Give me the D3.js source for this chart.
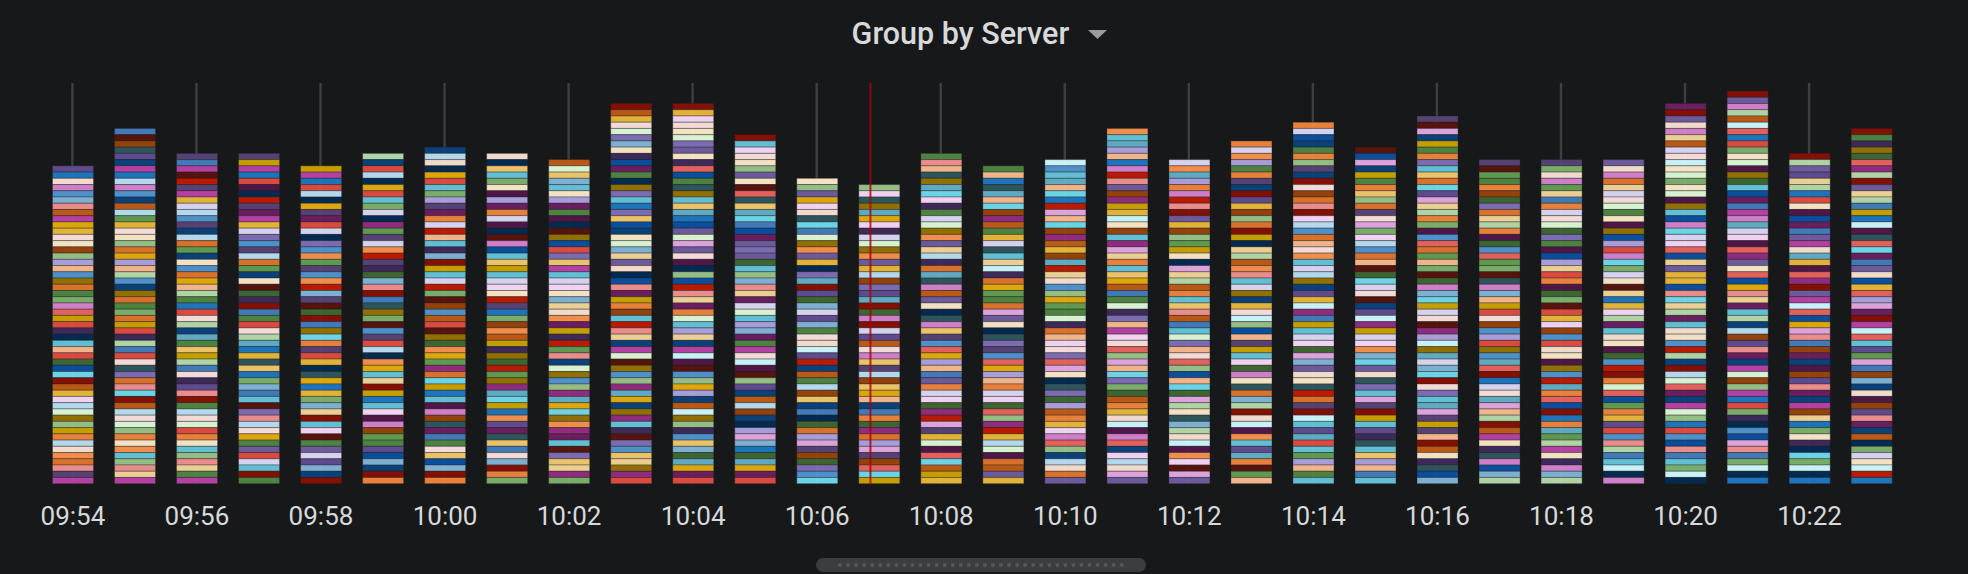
<!DOCTYPE html>
<html>
<head>
<meta charset="utf-8">
<title>Group by Server</title>
<script src="https://cdn.jsdelivr.net/npm/d3@7/dist/d3.min.js"></script>
<style>
html,body{margin:0;padding:0;background:#17181a;overflow:hidden}
svg{display:block}
text{font-family:Roboto,sans-serif;fill:#d8d9da}
</style>
</head>
<body>
<div id="chart"></div>
<script>
const title = "Group by Server";
const colorKeys = ["g1","y1","c1","o1","r1","b1","m1","p1","g2","y2","b2","o2","r2","n2","m2","p2","g3","y3","c3","o3","r3","b3","m3","p3","g4","y4","c4","o4","r4","b4","m4","p4","g5","y5","c5","o5","r5","b5","m5","p5","g6","y6","c6","o6","r6","b6","m6","p6","g7","y7","c7","o7","r7","b7","m7","p7"];
const colorValues = ["#7EB26D","#EAB839","#6ED0E0","#EF843C","#E24D42","#1F78C1","#BA43A9","#705DA0","#508642","#CCA300","#447EBC","#C15C17","#890F02","#0A437C","#6D1F62","#584477","#B7DBAB","#F4D598","#70DBED","#F9BA8F","#F29191","#82B5D8","#E5A8E2","#AEA2E0","#629E51","#E5AC0E","#64B0C8","#E0752D","#BF1B00","#0A50A1","#962D82","#614D93","#9AC48A","#F2C96D","#65C5DB","#F9934E","#EA6460","#5195CE","#D683CE","#806EB7","#3F6833","#967302","#2F575E","#99440A","#58140C","#052B51","#511749","#3F2B5B","#E0F9D7","#FCEACA","#CFFAFF","#F9E2D2","#FCE2DE","#BADFF4","#F9D9F9","#DEDAF7"];

// Each minute lists its servers from the top of the stack down; every server counts 1.
const minutes = ["09:54","09:55","09:56","09:57","09:58","09:59","10:00","10:01","10:02","10:03","10:04","10:05","10:06","10:07","10:08","10:09","10:10","10:11","10:12","10:13","10:14","10:15","10:16","10:17","10:18","10:19","10:20","10:21","10:22","10:23"];
const tickLabels = ["09:54","09:56","09:58","10:00","10:02","10:04","10:06","10:08","10:10","10:12","10:14","10:16","10:18","10:20","10:22"];
const markerTime = "10:06:52";
const s0954 = "p4 b1 o7 m5 b5 b3 r3 o2 m1 y4 y1 r7 y7 o6 g5 p3 o3 b5 y6 o4 g2 g1 m5 r5 y2 r1 p6 b6 c5 o3 r1 g6 b4 c3 r2 o2 y1 m7 b7 g7 y6 g5 y2 o1 b7 o7 o5 o4 r3 p2 m1";
const s0955 = "b2 r6 o6 c6 p4 n2 m1 b1 b7 m5 b5 n2 o2 b7 g4 y1 r7 y7 g5 o4 y4 p3 o3 g3 b5 n2 y6 o4 g2 g1 o4 y2 r1 p6 g3 b2 r1 r7 c6 p5 o4 r3 c3 r2 o2 b7 r7 g7 g5 o1 y7 o5 c5 g5 r3 y3 m1";
const s0956 = "p2 b2 m1 r6 r4 p2 m1 y1 p7 b7 b5 p2 n2 b7 o4 g4 n2 y7 b5 o4 y4 o3 g3 g2 b1 r1 r7 g3 n2 c4 g2 y5 y2 g3 b2 r7 p6 p4 r3 r2 g2 b7 r7 g7 r1 o1 y7 c5 g5 r3 y3 g2 m1";
const s0957 = "p2 y2 m1 b1 r1 m6 b6 r4 p2 m2 m1 y1 p7 p5 b5 p2 b7 o4 g4 n2 y7 r6 g6 p6 r2 b2 g2 r1 r7 g3 c4 b1 y1 c6 y5 b1 g1 b3 b2 c5 r6 p5 r3 b7 r7 y4 g2 p1 r1 p7 c5 r2 g2";
const s0958 = "y2 m1 b1 r1 b7 b6 y4 p2 m2 r1 p7 b6 p5 b5 o5 g4 p2 b5 o5 r4 b3 p2 r6 g6 r2 b2 y6 c3 o1 p2 r1 y1 b6 c6 y4 b1 y1 g1 b3 y3 r2 c5 m7 r6 g2 p1 p7 p4 b3 n2 r2";
const s0959 = "g3 n2 r1 b7 b6 y4 r1 c5 g1 p7 b6 m4 g4 p2 p7 o5 r4 p2 p6 g6 b3 r3 r2 b2 c6 y6 g1 r6 b5 p2 r1 b7 b6 o5 y4 c5 y3 r2 y2 b1 c5 m7 m6 m5 o6 g4 g2 p4 b4 b3 n2 r2 o1";
const s1000 = "n2 b7 o7 b6 y4 r1 c5 g1 p3 p2 m2 o1 p7 r4 o3 c5 p6 b3 r2 y2 c5 p7 r4 g1 r6 o6 b5 o2 r1 r6 y6 g6 o5 y4 g4 m4 o4 c3 y2 b1 c5 m6 m5 o6 c6 m2 b2 g2 r7 y5 b4 b3 r2 o1";
const s1001 = "o7 b6 y5 c5 g1 y7 m6 p3 m2 o1 p7 m6 b6 r6 m5 b4 c5 y5 y2 c5 p7 m7 y7 r4 p2 b1 g1 o6 o5 o2 y2 p6 y6 g6 r4 g4 y6 m4 c4 c3 y2 b1 o5 p4 m2 c6 y5 b2 r7 b3 r2 o1 g1";
const s1002 = "o2 g7 y5 b3 c5 y7 p3 m2 g2 m6 b6 r6 y6 b4 r1 p5 y5 m1 c5 p7 m7 y7 b3 y3 o7 o5 m2 y2 p6 r4 g4 r3 n2 g7 y6 b5 g5 m4 c4 y4 c3 y6 o5 m4 m2 c5 r6 p5 y5 y3 m4 g1";
const s1003 = "r2 o2 y1 r7 g7 p5 b3 y7 p6 b4 m2 g2 b6 y6 p5 c5 b1 p5 y5 b4 n2 y7 g7 b3 y3 p1 o7 b6 b4 r3 m2 y2 o1 o6 c5 r4 r3 y3 n2 m1 g7 r6 y6 b5 g5 m4 c4 y4 n2 y6 m4 c5 p6 r6 p5 b5 y5 y3 y6 m4 r1";
const s1004 = "r2 y1 m7 r7 y7 g7 p5 p1 y7 p6 r5 b4 g2 c6 y6 c5 y5 c4 b1 b4 p1 g7 m3 p1 r7 m6 b6 g5 b4 r4 r3 y3 m2 o1 g7 c5 p3 y3 n2 m1 c7 m6 r6 b5 g5 y4 p3 n2 o2 c7 y6 g5 p6 b5 y5 b3 g6 c4 y4 m2 r1";
const s1005 = "r2 c5 m7 r7 y7 g5 p1 y7 r6 r5 c6 y5 c4 c3 b2 b4 m2 p1 p5 p1 g6 c5 g5 b3 r3 y3 m2 p7 g7 c5 p3 b3 m2 g2 m1 r7 c7 m6 r6 g5 p4 n2 o2 b7 o6 n2 b6 p3 m3 b3 b1 g6 c4 y4 m2 r1";
const s1006 = "y7 g5 p1 y4 m7 o7 c6 c3 b2 g7 y6 o5 p1 y1 b6 p5 c4 r2 p4 g6 b3 p7 p4 b3 g2 r7 o7 c7 p4 r4 n2 o2 g2 b7 o6 y5 n2 b2 b6 g6 o4 p3 m3 p2 o6 g6 p5 b5 c3";
const s1007 = "g5 m7 c6 y6 c4 y4 m7 p6 p7 g7 y6 o5 p1 y1 b7 o6 p5 p4 c4 r2 g6 m5 r2 p7 p4 o2 r7 m5 y5 p2 b7 o6 y5 y4 o3 n2 b2 o1 g6 m4 o4 p3 m3 p2 o6 r5 c3 y2";
const s1008 = "g2 r3 o3 c6 y6 c4 c3 m7 p6 g2 p7 g7 y6 o5 p1 y3 b7 p6 o4 c4 c6 m5 o2 p1 y7 b6 c6 m5 y5 p2 b5 r5 y4 p3 o3 b2 p1 o1 p7 m7 g6 m4 r4 m3 p2 y1 g7 m6 r5 c3 o2 y2 y1";
const s1009 = "g2 o3 b1 c6 c4 o3 c3 o6 m4 o2 g2 y1 p7 c6 c5 y3 c7 p6 o4 y4 g4 g2 o4 m3 p1 y7 b6 c6 p5 p2 b5 r5 y4 p3 o3 o1 p7 m7 g6 r5 g5 m4 r4 y1 b7 g7 m6 o4 o2 p1 y1";
const s1010 = "c7 b5 c5 c4 o3 c3 b1 r4 m3 o3 c3 o6 m4 o2 y1 o6 c4 r4 y3 o7 b5 g5 y4 g4 g2 g7 p6 o4 o3 m7 r7 p5 r5 m3 y7 b6 c6 p5 g6 p3 o2 o1 y1 m7 m5 r5 g5 n2 b7 o7 o4 p1";
const s1011 = "o5 c5 c4 p3 o3 b1 m5 r4 r3 p1 o6 m4 y2 y1 c7 y7 o6 c5 m4 m3 y3 o1 c5 y5 y4 o2 b2 g2 g7 p6 p5 o3 m1 m7 r7 r5 g5 m3 o3 c3 p5 g1 g6 o2 o1 y1 o7 c7 m6 m5 r5 n2 m7 b7 o7 m3 p1";
const s1012 = "p7 o5 c4 p3 o1 m5 r4 r3 r2 p1 y1 o6 g5 g4 y2 y7 b6 m3 y3 g3 o2 o1 c5 y5 r3 o2 b2 c5 g7 p5 o3 r7 r5 g5 b4 o3 c3 g6 m3 g3 y7 c6 b3 g3 o7 c7 m6 o5 m7 r6 m3 p1";
const s1013 = "o1 p7 o5 p3 g2 o1 p2 n2 r2 p4 y1 o6 g5 o4 r2 y2 b6 y3 g3 o2 o5 r3 c5 p7 y6 n2 y1 r7 c7 g5 b4 o3 p2 y2 c5 m7 g6 m5 y7 c6 o4 b3 g3 r2 o7 c7 m6 o5 c5 p4 c4 o1 r6 g4 o3";
const s1014 = "o1 p7 b4 n2 g2 o1 g5 p2 n2 r2 r7 o6 o4 r3 r2 m7 b7 b5 o4 o3 r7 o5 c5 p7 b7 y6 n2 p4 y1 c7 m4 b2 y2 c5 p7 m7 g6 m3 b3 p1 o7 y7 c6 r4 o4 p2 r2 c7 c5 p4 c4 r1 c5 g4 p3 o3 g2 c5";
const s1015 = "r6 b4 m3 n2 y2 g2 o1 y5 g5 o4 p2 r7 m3 g1 m7 b7 b5 o4 o3 r6 g6 c3 p7 r7 r6 n2 p4 c7 m4 y2 p7 m7 o5 b3 c3 p1 o7 c6 p5 c5 m3 p2 r2 y2 c5 p4 p6 c6 c5 y5 p3 o3 b2 c5";
const s1016 = "p2 r6 m3 n2 y2 g2 o1 p5 c5 y5 o4 c3 p4 m3 y3 g3 o1 g1 m6 b5 r5 o4 g4 o3 g1 r6 g6 m5 b3 c3 y2 p7 r7 r6 m4 p3 c7 y6 c4 p7 b3 c3 r2 r7 p5 c5 c4 m3 p2 y2 p2 o3 r2 o2 y7 p6 c6 b4 b3";
const s1017 = "p2 r6 g4 g2 o1 o6 g6 p5 o4 y3 g3 o1 m6 g6 b5 r5 g4 g1 r6 c6 m5 b3 o3 y2 r1 r7 o6 b5 p3 r1 y6 b5 c4 r5 r2 b1 p7 r7 c4 m3 o3 g3 r2 o2 m1 y7 p6 c6 m5 b4 b3 g3";
const s1018 = "p2 g1 o7 m5 g4 y3 b2 o1 p7 r7 g7 g6 p5 g2 m6 b4 p3 y3 r1 o1 m6 g6 g1 r6 r1 y1 m7 o6 b5 r1 o7 y7 m6 y6 b5 r4 c4 o1 r5 b4 r2 b1 o1 c4 g4 g3 m1 y7 p6 m5 b3 g3";
const s1019 = "p1 o7 m5 o4 y3 p7 r7 g7 g2 y7 m6 y6 b4 p3 r1 m5 c3 g1 p7 y7 r6 y3 b1 y1 m7 g3 m2 c5 o7 y7 m6 g6 b5 r4 r2 o1 g7 r5 b4 g4 o1 y1 p4 r1 b5 r3 g3 b2 c5 c7 b6 m5";
const s1020 = "m2 r2 p1 o7 m5 y3 o2 p7 r7 c7 y7 g7 g1 y7 g7 m6 y6 c5 b4 m5 c3 p7 m7 r5 b4 y3 p1 y1 y1 b4 r3 c3 y3 g3 m2 c5 o7 y7 b5 r4 g3 n2 r2 b7 g7 r5 m2 n2 m1 g7 g5 b1 r1 b5 b4 r3 b2 c5 g1 c7 b6";
const s1021 = "r2 p1 m5 g3 o2 c7 r5 b1 r1 g1 y7 g7 m6 y6 g6 c5 b4 m2 b2 m1 m5 c4 p7 m7 m6 r5 m4 p1 y7 r5 b4 y4 r3 y3 m2 c5 g3 n2 b7 o6 p4 r3 m2 n2 m1 g7 o6 g5 m1 b1 r1 g1 p6 b6 b5 b4 m3 r3 b2 g1 c7 b6 b1";
const s1022 = "r2 g3 p1 p4 y3 g3 b1 r1 y7 m6 b4 m2 b2 p1 m1 o7 c4 y1 m6 r5 m4 r2 p1 m1 c7 r5 b4 y4 m3 r3 b2 o6 m2 n2 m6 o6 p4 r3 m2 n2 m1 o6 y3 b1 g1 y7 p6 b6 c3 g1 c7 b6 b1";
const s1023 = "r2 g2 p6 y6 g6 r5 m4 g3 r2 p1 y3 g3 b2 y2 b1 c7 m6 c6 r5 c3 m2 b2 p1 o7 b4 y1 r5 p3 m3 m2 r2 m1 c7 r5 c5 p4 g4 m3 b2 o6 b3 n2 o7 m6 o6 p4 r3 m2 n2 o2 b6 g1 p7 y7 c7 r4 b1";
const stackLists = [s0954,s0955,s0956,s0957,s0958,s0959,s1000,s1001,s1002,s1003,s1004,s1005,s1006,s1007,s1008,s1009,s1010,s1011,s1012,s1013,s1014,s1015,s1016,s1017,s1018,s1019,s1020,s1021,s1022,s1023];
const yTopValue = 64.29;
const segmentValue = 1;

const W = 1968, H = 574;
const svg = d3.select("#chart").append("svg").attr("width", W).attr("height", H);
svg.append("rect").attr("width", W).attr("height", H).attr("fill", "#17181a");

const parseT = s => {
  const [hh, mm, ss] = s.split(":").map(Number);
  return new Date(Date.UTC(2020, 0, 1, hh, mm, ss || 0));
};
const x = d3.scaleUtc()
  .domain([parseT(minutes[0]), parseT(minutes[minutes.length - 1])])
  .range([72.4, 1871.1]);
const y = d3.scaleLinear().domain([0, yTopValue]).range([483.7, 83]);
const color = d3.scaleOrdinal(colorKeys, colorValues);

// grid at labelled ticks
svg.append("g").selectAll("line").data(tickLabels).join("line")
  .attr("x1", d => x(parseT(d))).attr("x2", d => x(parseT(d)))
  .attr("y1", y(yTopValue)).attr("y2", y(0))
  .attr("stroke", "#3e3f41").attr("stroke-width", 2.4);

// stacked bars
const barW = 41;
const cells = minutes.flatMap((m, i) => {
  const list = stackLists[i].split(" ");
  return list.map((key, k) => ({m, key, y0: (list.length - k - 1) * segmentValue, y1: (list.length - k) * segmentValue}));
});
svg.append("g").selectAll("rect").data(cells).join("rect")
  .attr("x", d => x(parseT(d.m)) - barW / 2 + 0.6)
  .attr("width", barW)
  .attr("y", d => y(d.y1))
  .attr("height", d => y(d.y0) - y(d.y1))
  .attr("fill", d => color(d.key))
  .attr("fill-opacity", 0.96)
  .attr("stroke", "rgba(32,33,35,0.36)")
  .attr("stroke-width", 1);

// annotation marker
const mx = x(parseT(markerTime));
svg.append("line")
  .attr("x1", mx).attr("x2", mx)
  .attr("y1", y(yTopValue)).attr("y2", y(0))
  .attr("stroke", "rgba(170,0,0,0.8)").attr("stroke-width", 2);

// x axis
const axis = d3.axisBottom(x)
  .tickValues(tickLabels.map(parseT))
  .tickFormat(d3.utcFormat("%H:%M"))
  .tickSize(0).tickPadding(0);
const ax = svg.append("g").attr("transform", "translate(0,500)").call(axis);
ax.select(".domain").remove();
ax.selectAll("text").attr("fill", null).style("font-size", "26px").style("font-family", "Roboto").attr("y", 25).attr("dy", 0);

// title and caret
svg.append("text").attr("x", 960.4).attr("y", 44).attr("text-anchor", "middle")
  .style("font-size", "30.5px").style("font-weight", 500).text(title);
svg.append("path").attr("d", d3.line()([[1088, 30], [1107, 30], [1097.5, 39]])).attr("fill", "#9a9b9d");

// scrollbar
const sb = svg.append("g");
sb.append("rect").attr("x", 816).attr("y", 558).attr("width", 330).attr("height", 14).attr("rx", 7).attr("fill", "#3c3d40");
sb.selectAll("circle").data(d3.range(36)).join("circle")
  .attr("cx", d => 840 + d * 8.05).attr("cy", 565).attr("r", 2).attr("fill", "#56575b");
</script>
</body>
</html>
